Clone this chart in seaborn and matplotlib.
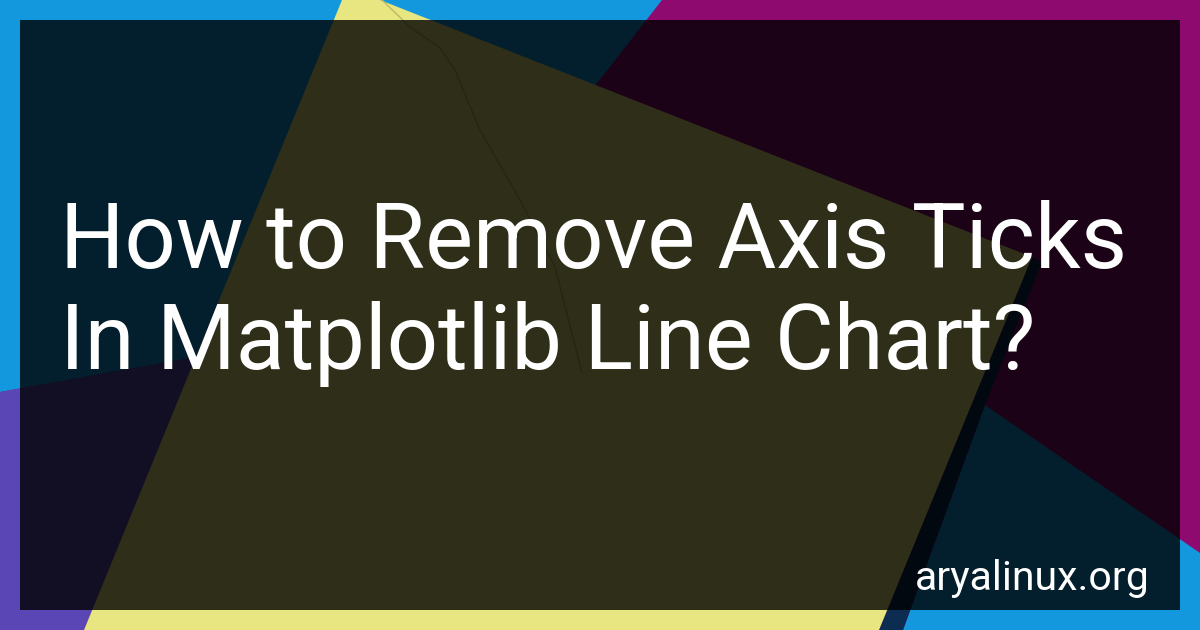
import seaborn as sns
import matplotlib.pyplot as plt

# background pieces (pixel coords, y down)
blue_top = [(0, 0), (662, 0), (598, 82), (480, 240), (197, 357), (0, 392)]
purple_left = [(0, 392), (197, 357), (84, 630), (0, 630)]
blue_bottom = [(985, 405), (1200, 553), (1200, 630), (903, 630)]
shadow = [(1032, 257), (1042, 262), (985, 405), (903, 630), (879, 630)]
paper = [(342, 0), (380, 0), (1032, 257), (879, 630), (84, 630)]
fold_x = [382, 410, 440, 455, 480, 520, 555, 582]
fold_y = [0, 27, 48, 70, 130, 200, 267, 373]

title_lines = ["How to Remove Axis Ticks", "In Matplotlib Line Chart?"]
site = "aryalinux.org"

sns.set_theme(style="white")
plt.rcParams['font.family'] = ['Roboto', 'DejaVu Sans']

fig = plt.figure(figsize=(12, 6.3), dpi=100)
ax = fig.add_axes([0, 0, 1, 1])
ax.set_xlim(0, 1200)
ax.set_ylim(630, 0)
ax.axis('off')

ax.add_patch(plt.Rectangle((0, 0), 1200, 630, color='#8e0a6e', zorder=0))
ax.fill(*zip(*blue_top), color='#1398de', lw=0, zorder=1)
ax.fill(*zip(*purple_left), color='#5a47b5', lw=0, zorder=1)
ax.fill(*zip(*blue_bottom), color='#1398de', lw=0, zorder=1)
ax.fill(*zip(*shadow), color='#0c2c52', lw=0, zorder=2)
ax.fill(*zip(*paper), color='#e8e680', lw=0, zorder=3)
sns.lineplot(x=fold_x, y=fold_y, sort=False, color='#bcba66', lw=1, ax=ax, zorder=4)

# dark frame overlay
ax.add_patch(plt.Rectangle((20, 20), 1160, 590, color='black', alpha=0.8, lw=0, zorder=5))

for i, line in enumerate(title_lines):
    ax.text(60, 268 + i * 101, line, color='white', fontsize=65,
            va='baseline', ha='left', zorder=6)
ax.text(1150, 590, site, color='white', fontsize=29.5, va='baseline', ha='right', zorder=6)

fig.savefig('out.png', dpi=100)
